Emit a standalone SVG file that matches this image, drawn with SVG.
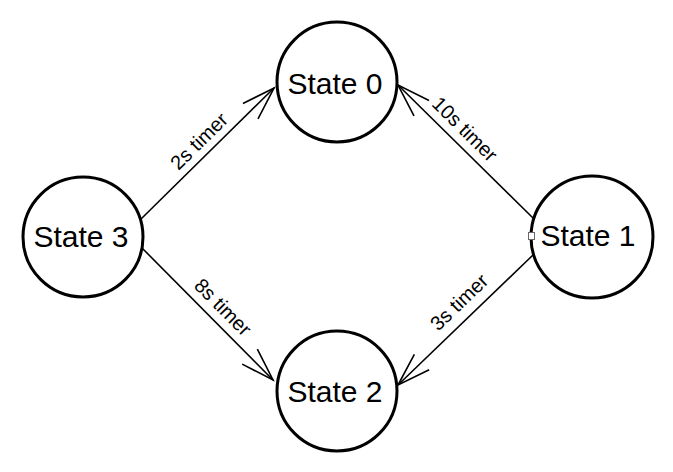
<svg xmlns="http://www.w3.org/2000/svg" width="673" height="472" viewBox="0 0 673 472">
<style>
.node circle{fill:#fff;stroke:#000;stroke-width:3}
.node text{font-family:"Liberation Sans",Arial,sans-serif;font-size:30px;text-anchor:middle;fill:#000}
.edge{fill:none;stroke:#000;stroke-width:1.6;marker-end:url(#arr)}
.lbl{font-family:"Liberation Sans",Arial,sans-serif;font-size:20px;text-anchor:middle;fill:#000}
</style>
<defs>
<marker id="arr" markerUnits="userSpaceOnUse" orient="auto" refX="0" refY="0" markerWidth="40" markerHeight="30" overflow="visible">
<path d="M-33,-10.7 L0,0 L-33,10.7" fill="none" stroke="#000" stroke-width="1.6"/>
</marker>
</defs>
<rect width="673" height="472" fill="#fff"/>
<g id="connectors">
<path class="edge" d="M140,220 L274,88"/>
<path class="edge" d="M533,218 L398,85"/>
<path class="edge" d="M142,248 L273,380"/>
<path class="edge" d="M533,255 L398,385"/>
<text class="lbl" transform="translate(199,141) rotate(-44.6)" y="7">2s timer</text>
<text class="lbl" transform="translate(465,129) rotate(44.6)" y="7">10s timer</text>
<text class="lbl" transform="translate(223,307) rotate(45.2)" y="7">8s timer</text>
<text class="lbl" transform="translate(459,302) rotate(-43.9)" y="7">3s timer</text>
</g>
<g id="state0" class="node"><circle cx="337" cy="82" r="60"/><text x="335" y="93.5">State 0</text></g>
<g id="state3" class="node"><circle cx="83" cy="237" r="60"/><text x="81" y="246.5">State 3</text></g>
<g id="state1" class="node"><circle cx="592" cy="237" r="61"/><text x="588" y="246">State 1</text></g>
<g id="state2" class="node"><circle cx="337" cy="391" r="60"/><text x="335" y="401.5">State 2</text></g>
<rect x="528.5" y="232.5" width="6" height="7" fill="#fff" stroke="#666" stroke-width="1"/>
</svg>
